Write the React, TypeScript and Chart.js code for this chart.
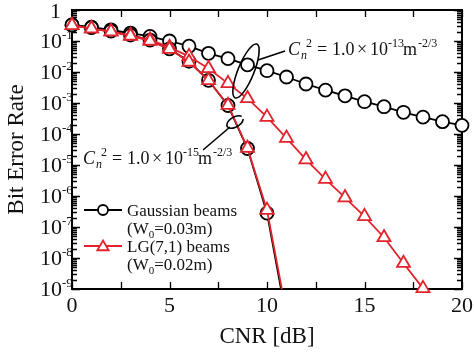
import React, { useEffect, useRef } from 'react';
import { Chart, registerables } from 'chart.js';

Chart.register(...registerables);

// ---- data ----
const cnrGaussStrong = [0, 1, 2, 3, 4, 5, 6, 7, 8, 9, 10, 11, 12, 13, 14, 15, 16, 17, 18, 19, 20];
const berGaussStrong = [0.33, 0.28, 0.23, 0.18, 0.14, 0.1, 6.8e-2, 4.0e-2, 2.7e-2, 1.7e-2, 1.1e-2, 6.9e-3, 4.1e-3, 2.6e-3, 1.7e-3, 1.1e-3, 7.6e-4, 5.0e-4, 3.5e-4, 2.5e-4, 1.9e-4];

const cnrLgStrong = [0, 1, 2, 3, 4, 5, 6, 7, 8, 9, 10, 11, 12, 13, 14, 15, 16, 17, 18];
const berLgStrong = [0.32, 0.25, 0.2, 0.15, 0.11, 6.3e-2, 3.2e-2, 1.3e-2, 4.3e-3, 1.4e-3, 3.5e-4, 7.4e-5, 1.5e-5, 3.5e-6, 8.9e-7, 2.2e-7, 4.6e-8, 6.8e-9, 1.05e-9];

const cnrWeak = [0, 1, 2, 3, 4, 5, 6, 7, 8, 9, 10, 11];
const berGaussWeak = [0.33, 0.27, 0.21, 0.155, 0.107, 5.6e-2, 2.2e-2, 5.4e-3, 8.3e-4, 3.4e-5, 2.8e-7, 1.1e-10];
const berLgWeak = [0.32, 0.25, 0.2, 0.145, 0.1, 5.5e-2, 2.1e-2, 5.4e-3, 8.5e-4, 3.5e-5, 3.5e-7, 1.6e-10];

const xTickValues = [0, 2.5, 5, 7.5, 10, 12.5, 15, 17.5, 20];
const xLabelValues = [0, 5, 10, 15, 20];
const yDecadeExponents = [0, -1, -2, -3, -4, -5, -6, -7, -8, -9];
const yMinorMantissas = [2, 3, 4, 5, 6, 7, 8, 9];

const xTitle = 'CNR [dB]';
const yTitle = 'Bit Error Rate';
const seriesNames = ['Gaussian beams', 'LG(7,1) beams'];
const waistValues = ['0.03m', '0.02m'];
const cnExponents = ['-13', '-15'];

const RED = '#e3232c';
const BLACK = '#000000';
const SERIF = '"Liberation Serif", "Times New Roman", serif';

function pts(xs: number[], ys: number[]) {
  return xs.map((x, i) => ({ x, y: ys[i] }));
}

function drawCn(ctx: CanvasRenderingContext2D, x0: number, y: number, exp: string) {
  const big = `18px ${SERIF}`;
  const bigI = `italic 18px ${SERIF}`;
  const small = `12px ${SERIF}`;
  const smallI = `italic 12px ${SERIF}`;
  ctx.textAlign = 'left';
  ctx.textBaseline = 'alphabetic';
  const parts: [string, string, number, number][] = [
    ['C', bigI, 0, 0],
    ['n', smallI, 13, 4],
    ['2', small, 18, -8],
    ['=', big, 29, 0],
    ['1.0', big, 44, 0],
    ['\u00d7', big, 69, 0],
    ['10', big, 82, 0],
    [exp, small, 100, -8],
    ['m', big, 115, 0],
    ['-2/3', small, 130, -8],
  ];
  for (const [t, f, dx, dy] of parts) {
    ctx.font = f;
    ctx.fillText(t, x0 + dx, y + dy);
  }
}

function drawTriangle(ctx: CanvasRenderingContext2D, x: number, y: number, r: number) {
  ctx.beginPath();
  ctx.moveTo(x, y - r);
  ctx.lineTo(x + r * Math.sin((2 * Math.PI) / 3), y - r * Math.cos((2 * Math.PI) / 3));
  ctx.lineTo(x + r * Math.sin((4 * Math.PI) / 3), y - r * Math.cos((4 * Math.PI) / 3));
  ctx.closePath();
  ctx.fill();
  ctx.stroke();
}

const decorPlugin = {
  id: 'decor',
  beforeDatasetsDraw(chart: any) {
    const { ctx, chartArea: a, scales } = chart;
    const xs = scales.x;
    const ys = scales.y;
    ctx.save();
    ctx.strokeStyle = BLACK;
    ctx.lineWidth = 2;
    ctx.strokeRect(a.left, a.top, a.right - a.left, a.bottom - a.top);

    ctx.lineWidth = 1.3;
    ctx.beginPath();
    for (const v of xTickValues) {
      const px = Math.round(xs.getPixelForValue(v)) + 0.5;
      ctx.moveTo(px, a.bottom);
      ctx.lineTo(px, a.bottom - 7);
      ctx.moveTo(px, a.top);
      ctx.lineTo(px, a.top + 7);
    }
    for (const e of yDecadeExponents) {
      const py = Math.round(ys.getPixelForValue(Math.pow(10, e))) + 0.5;
      ctx.moveTo(a.left, py);
      ctx.lineTo(a.left + 8, py);
      ctx.moveTo(a.right, py);
      ctx.lineTo(a.right - 8, py);
      if (e < 0) {
        for (const m of yMinorMantissas) {
          const pm = Math.round(ys.getPixelForValue(m * Math.pow(10, e))) + 0.5;
          ctx.moveTo(a.left, pm);
          ctx.lineTo(a.left + 5, pm);
          ctx.moveTo(a.right, pm);
          ctx.lineTo(a.right - 5, pm);
        }
      }
    }
    ctx.stroke();

    // tick labels
    ctx.fillStyle = '#111';
    ctx.textBaseline = 'alphabetic';
    ctx.font = `22px ${SERIF}`;
    ctx.textAlign = 'center';
    for (const v of xLabelValues) {
      ctx.fillText(String(v), xs.getPixelForValue(v), a.bottom + 23);
    }
    for (const e of yDecadeExponents) {
      const py = ys.getPixelForValue(Math.pow(10, e));
      if (e === 0) {
        ctx.font = `22px ${SERIF}`;
        ctx.textAlign = 'right';
        ctx.fillText('1', a.left - 11, py + 8);
      } else {
        ctx.font = `22px ${SERIF}`;
        ctx.textAlign = 'right';
        ctx.fillText('10', a.left - 10, py + 7);
        ctx.font = `13px ${SERIF}`;
        ctx.textAlign = 'left';
        ctx.fillText(String(e), a.left - 10, py - 2);
      }
    }

    // axis titles
    ctx.font = `23px ${SERIF}`;
    ctx.textAlign = 'center';
    ctx.fillText(xTitle, (a.left + a.right) / 2, a.bottom + 54);
    ctx.save();
    ctx.translate(23, (a.top + a.bottom) / 2);
    ctx.rotate(-Math.PI / 2);
    ctx.fillText(yTitle, 0, 0);
    ctx.restore();
    ctx.restore();
  },
  afterDatasetsDraw(chart: any) {
    const { ctx } = chart;
    ctx.save();
    ctx.strokeStyle = BLACK;
    ctx.fillStyle = '#111';
    ctx.lineWidth = 1.6;

    // strong-turbulence annotation
    ctx.beginPath();
    ctx.ellipse(246, 71, 29, 8, (-68 * Math.PI) / 180, 0, Math.PI * 2);
    ctx.stroke();
    ctx.beginPath();
    ctx.moveTo(258, 60);
    ctx.lineTo(285, 51);
    ctx.stroke();
    drawCn(ctx, 288, 55, cnExponents[0]);

    // weak-turbulence annotation
    ctx.beginPath();
    ctx.ellipse(235, 122, 9, 5, (-30 * Math.PI) / 180, 0.3, Math.PI * 2 - 0.3);
    ctx.stroke();
    ctx.beginPath();
    ctx.moveTo(230, 127);
    ctx.lineTo(203, 150);
    ctx.stroke();
    drawCn(ctx, 83, 164, cnExponents[1]);

    // legend
    const rows = [
      { y: 210, color: BLACK, tri: false },
      { y: 246, color: RED, tri: true },
    ];
    rows.forEach((r, i) => {
      ctx.strokeStyle = r.color;
      ctx.lineWidth = 2;
      ctx.beginPath();
      ctx.moveTo(84, r.y);
      ctx.lineTo(122, r.y);
      ctx.stroke();
      ctx.fillStyle = '#fff';
      ctx.lineWidth = 1.8;
      if (r.tri) {
        drawTriangle(ctx, 103, r.y + 1, 6.5);
      } else {
        ctx.beginPath();
        ctx.arc(103, r.y, 5, 0, Math.PI * 2);
        ctx.fill();
        ctx.stroke();
      }
      ctx.fillStyle = '#111';
      ctx.textAlign = 'left';
      ctx.font = `17px ${SERIF}`;
      ctx.fillText(seriesNames[i], 127, r.y + 6);
      const by = r.y + 24;
      ctx.fillText('(W', 127, by);
      const w1 = ctx.measureText('(W').width;
      ctx.font = `11px ${SERIF}`;
      ctx.fillText('0', 127 + w1, by + 4);
      const w2 = ctx.measureText('0').width;
      ctx.font = `17px ${SERIF}`;
      ctx.fillText('=' + waistValues[i] + ')', 127 + w1 + w2, by);
    });
    ctx.restore();
  },
};

export default function App() {
  const ref = useRef<HTMLCanvasElement | null>(null);
  useEffect(() => {
    if (!ref.current) return;
    const weakClip = { left: 20, top: 20, right: 20, bottom: 0 } as any;
    const circle = {
      borderColor: BLACK,
      borderWidth: 1.8,
      pointStyle: 'circle',
      pointRadius: 6.5,
      pointBorderWidth: 1.8,
      pointBackgroundColor: '#fff',
      pointBorderColor: BLACK,
      tension: 0,
    };
    const triangle = {
      borderColor: RED,
      borderWidth: 1.8,
      pointStyle: 'triangle',
      pointRadius: 7.5,
      pointBorderWidth: 1.8,
      pointBackgroundColor: '#fff',
      pointBorderColor: RED,
      tension: 0,
    };
    const chart = new Chart(ref.current, {
      type: 'line',
      data: {
        datasets: [
          { ...circle, label: seriesNames[0] + ' strong', data: pts(cnrGaussStrong, berGaussStrong), clip: false, order: 4 },
          { ...circle, label: seriesNames[0] + ' weak', data: pts(cnrWeak, berGaussWeak), clip: weakClip, order: 3 },
          { ...triangle, label: seriesNames[1] + ' strong', data: pts(cnrLgStrong, berLgStrong), clip: false, order: 2 },
          { ...triangle, label: seriesNames[1] + ' weak', data: pts(cnrWeak, berLgWeak), clip: weakClip, order: 1 },
        ] as any,
      },
      options: {
        responsive: false,
        animation: false,
        layout: { padding: { left: 72, right: 12, top: 10, bottom: 75 } },
        plugins: { legend: { display: false }, tooltip: { enabled: false } },
        scales: {
          x: { type: 'linear', min: 0, max: 20, display: false },
          y: { type: 'logarithmic', min: 1e-9, max: 1, display: false },
        },
      } as any,
      plugins: [decorPlugin],
    });
    return () => chart.destroy();
  }, []);
  return (
    <div style={{ position: 'absolute', left: 0, top: 0, width: 474, height: 364, background: '#fff' }}>
      <canvas ref={ref} width={474} height={364} style={{ width: 474, height: 364, display: 'block' }} />
    </div>
  );
}
